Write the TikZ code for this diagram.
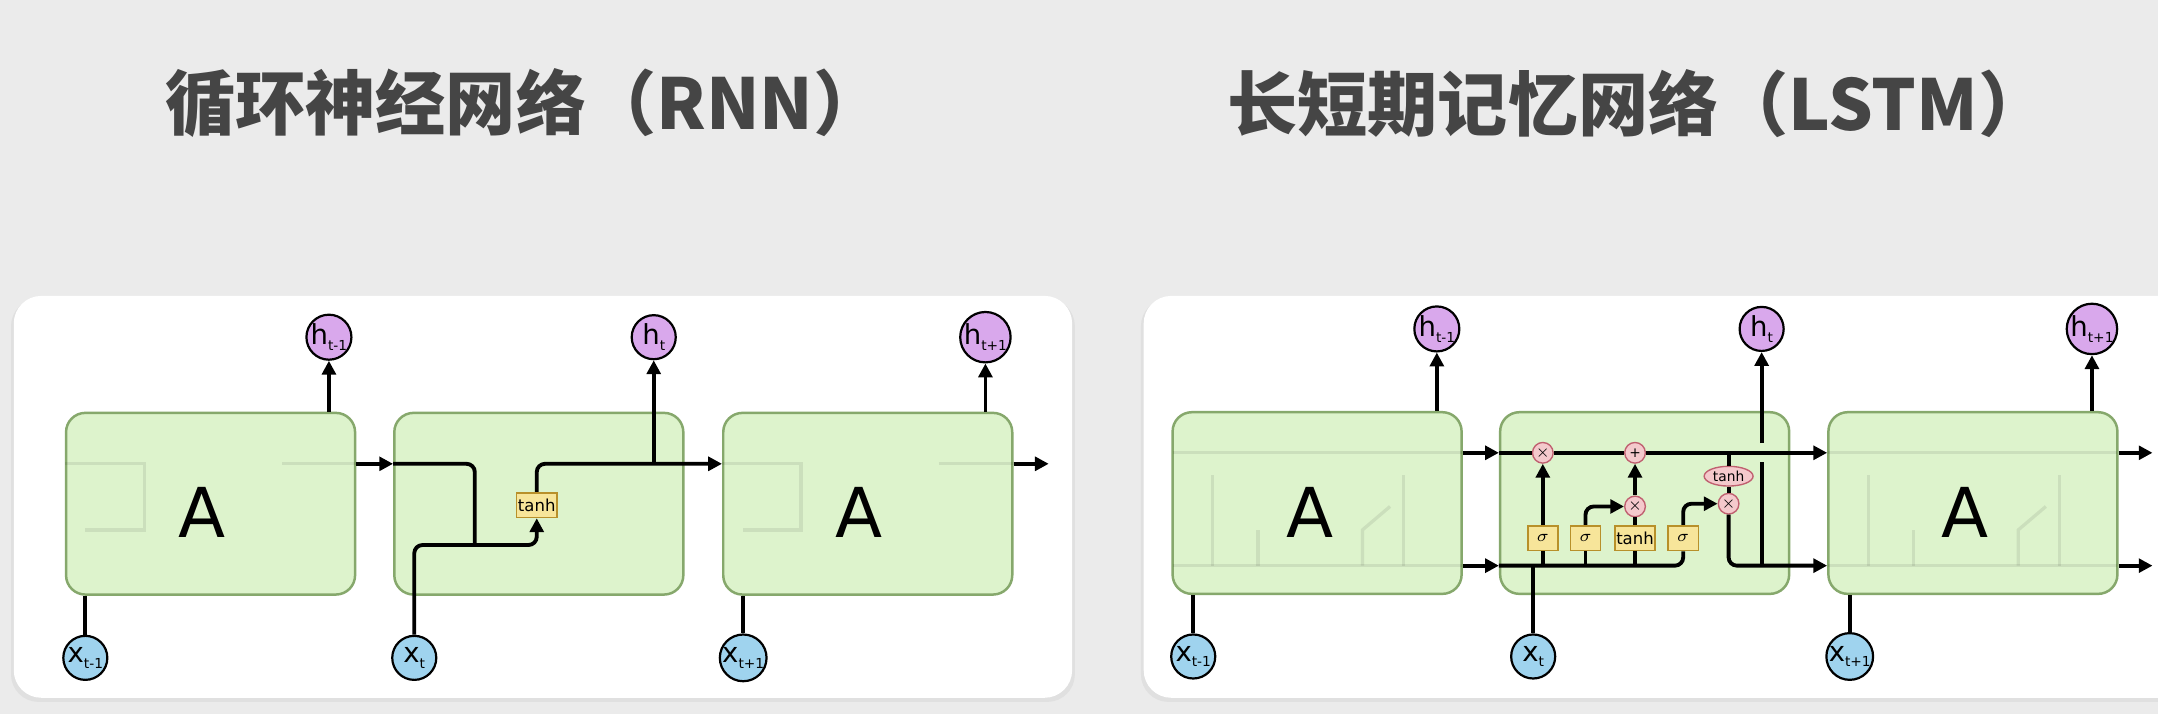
\documentclass[tikz,border=0pt]{standalone}
\usepackage{fontspec}
\setsansfont{DejaVu Sans}
\newfontfamily\cjk{Noto Sans CJK SC}
\usetikzlibrary{arrows.meta,shapes.geometric}
\definecolor{bgc}{HTML}{EBEBEB}
\definecolor{cellfill}{HTML}{DDF3CC}
\definecolor{cellline}{HTML}{86A86C}
\definecolor{hfill}{HTML}{D9A8EC}
\definecolor{xfill}{HTML}{9FD3EE}
\definecolor{gatefill}{HTML}{F7E59A}
\definecolor{gateline}{HTML}{B8902A}
\definecolor{opfill}{HTML}{F4C9CC}
\definecolor{opline}{HTML}{C06070}
\definecolor{titlec}{HTML}{454545}
\tikzset{
  cellbox/.style={draw=cellline,fill=cellfill,line width=0.9pt,rounded corners=7pt,minimum width=105pt,minimum height=66pt,inner sep=0pt},
  hnode/.style={circle,draw=black,line width=0.8pt,fill=hfill,minimum size=16pt,inner sep=0pt,font=\sffamily\fontsize{10}{10}\selectfont},
  xnode/.style={circle,draw=black,line width=0.8pt,fill=xfill,minimum size=16pt,inner sep=0pt,font=\sffamily\fontsize{10}{10}\selectfont},
  gate/.style={draw=gateline,fill=gatefill,line width=0.6pt,minimum width=11pt,minimum height=9pt,inner sep=0.5pt,font=\sffamily\fontsize{6}{6}\selectfont},
  opnode/.style={circle,draw=opline,fill=opfill,line width=0.5pt,minimum size=7.5pt,inner sep=0pt,font=\sffamily\fontsize{5}{5}\selectfont},
  conn/.style={line width=1.4pt,black,rounded corners=3pt},
  arr/.style={conn,-{Triangle[length=5pt,width=5pt]}},
  faint/.style={line width=1.2pt,black,opacity=0.08},
  bigA/.style={font=\sffamily\fontsize{25}{25}\selectfont},
  title/.style={font=\cjk\bfseries\fontsize{25.5}{25.5}\selectfont,text=titlec}
}
\begin{document}
\begin{tikzpicture}[x=0.5pt,y=-0.5pt]
\useasboundingbox (0,0) rectangle (1568,519);
\fill[bgc] (0,0) rectangle (1568,519);
\node[title] (t1) at (381,75) {循环神经网络（RNN）};
\node[title] (t2) at (1190,75) {长短期记忆网络（LSTM）};
% panels
\fill[black!12,rounded corners=10pt] (8,217) rectangle (781,510);
\fill[white,rounded corners=10pt] (10,215) rectangle (779,507);
\fill[black!12,rounded corners=10pt] (829,217) rectangle (1590,510);
\fill[white,rounded corners=10pt] (831,215) rectangle (1590,507);

% ================= RNN =================
\coordinate (hy) at (0,337);
\node[cellbox] (b1) at (153,366) {};
\node[cellbox] (b2) at (391.5,366) {};
\node[cellbox] (b3) at (630.5,366) {};
\draw[faint] (b1.west|-hy) -- (105,337) -- (105,385) -- (62,385);
\draw[faint] (b3.west|-hy) -- (582,337) -- (582,385) -- (540,385);
\draw[faint] (205,337) -- (b1.east|-hy);
\draw[faint] (682,337) -- (b3.east|-hy);
\node[bigA] (A1) at (147,372) {A};
\node[bigA] (A3) at (624,372) {A};
\node[hnode] (h1) at (239,245) {h\raisebox{-2pt}{\tiny t-1}};
\node[hnode] (h2) at (475,245) {h\raisebox{-2pt}{\tiny t}};
\node[hnode] (h3) at (716,245) {h\raisebox{-2pt}{\tiny t+1}};
\node[xnode] (x1) at (62,478) {x\raisebox{-2pt}{\tiny t-1}};
\node[xnode] (x2) at (301,478) {x\raisebox{-2pt}{\tiny t}};
\node[xnode] (x3) at (540,478) {x\raisebox{-2pt}{\tiny t+1}};
\node[gate] (tr) at (390,367) {tanh};
\draw[arr] (b1.north-|h1) -- (h1);
\draw[arr] (b3.north-|h3) -- (h3);
\draw[conn] (x1) -- (x1|-b1.south);
\draw[conn] (x3) -- (x3|-b3.south);
\draw[arr] (b1.east|-hy) -- (b2.west|-hy);
\draw[conn] (b2.west|-hy) -- (345,337) -- (345,396);
\draw[arr] (x2) -- (301,396) -- (390,396) -- (tr.south);
\draw[arr] (tr.north) -- (390,337) -- (b3.west|-hy);
\draw[arr] (475,337) -- (h2);
\coordinate (re) at (762,337);
\draw[arr] (b3.east|-hy) -- (re);

% ================= LSTM =================
\coordinate (ty) at (0,329);
\coordinate (by) at (0,411);
\node[cellbox] (B1) at (957,365.5) {};
\node[cellbox] (B2) at (1195,365.5) {};
\node[cellbox] (B3) at (1433.5,365.5) {};
\foreach \o in {0,476.5}{
  \draw[faint] (852+\o,329) -- (1062+\o,329);
  \draw[faint] (852+\o,411) -- (1062+\o,411);
  \draw[faint] (881+\o,411) -- (881+\o,345);
  \draw[faint] (914+\o,411) -- (914+\o,385);
  \draw[faint] (1020+\o,411) -- (1020+\o,345);
  \draw[faint] (990+\o,411) -- (990+\o,385) -- (1010+\o,368);
}
\node[bigA] (A4) at (952,372) {A};
\node[bigA] (A6) at (1428,372) {A};
\node[hnode] (H1) at (1044,239) {h\raisebox{-2pt}{\tiny t-1}};
\node[hnode] (H2) at (1280,239) {h\raisebox{-2pt}{\tiny t}};
\node[hnode] (H3) at (1520,239) {h\raisebox{-2pt}{\tiny t+1}};
\node[xnode] (X1) at (867,477) {x\raisebox{-2pt}{\tiny t-1}};
\node[xnode] (X2) at (1114,477) {x\raisebox{-2pt}{\tiny t}};
\node[xnode] (X3) at (1344,477) {x\raisebox{-2pt}{\tiny t+1}};
\node[opnode] (m1) at (1121,329) {$\times$};
\node[opnode] (pl) at (1188,329) {+};
\node[opnode] (m2) at (1188,368) {$\times$};
\node[opnode] (m3) at (1256,366) {$\times$};
\node[ellipse,draw=opline,fill=opfill,line width=0.5pt,inner sep=0.6pt,font=\sffamily\fontsize{5}{5}\selectfont] (th) at (1256,346) {tanh};
\node[gate] (g1) at (1121,391) {$\sigma$};
\node[gate] (g2) at (1152,391) {$\sigma$};
\node[gate] (g3) at (1188,391) {tanh};
\node[gate] (g4) at (1223,391) {$\sigma$};
\draw[arr] (B1.north-|H1) -- (H1);
\draw[arr] (B3.north-|H3) -- (H3);
\draw[conn] (X1) -- (X1|-B1.south);
\draw[conn] (X3) -- (X3|-B3.south);
\draw[arr] (B1.east|-ty) -- (B2.west|-ty);
\draw[arr] (B1.east|-by) -- (B2.west|-by);
\draw[conn] (B2.west|-ty) -- (m1);
\draw[conn] (m1) -- (pl);
\draw[arr] (pl) -- (B3.west|-ty);
\draw[conn] (B2.west|-by) -- (1223,411) -- (g4.south);
\draw[conn] (X2) -- (1114,411);
\draw[conn] (g1.south|-by) -- (g1.south);
\draw[conn] (g2.south|-by) -- (g2.south);
\draw[conn] (g3.south|-by) -- (g3.south);
\draw[arr] (g1.north) -- (m1.south);
\draw[arr] (g2.north) -- (1152,368) -- (m2.west);
\draw[conn] (g3.north) -- (m2.south);
\draw[arr] (m2.north) -- (pl.south);
\draw[arr] (g4.north) -- (1223,366) -- (m3.west);
\draw[conn] (th.north|-ty) -- (th.north);
\draw[conn] (th.south) -- (m3.north);
\draw[arr] (m3.south) -- (1256,411) -- (B3.west|-by);
\draw[conn] (1280,411) -- (1280,336);
\draw[arr] (1280,322) -- (H2);
\coordinate (re1) at (1564,329);
\coordinate (re2) at (1564,411);
\draw[arr] (B3.east|-ty) -- (re1);
\draw[arr] (B3.east|-by) -- (re2);
\end{tikzpicture}
\end{document}
